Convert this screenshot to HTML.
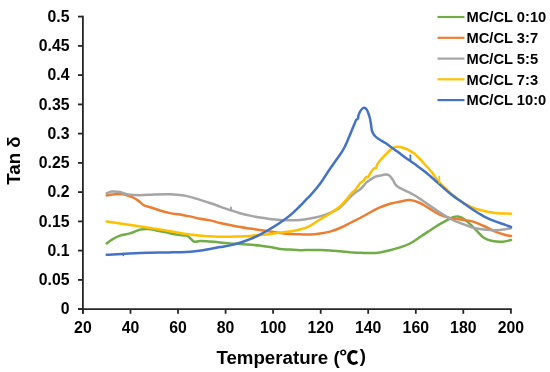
<!DOCTYPE html>
<html><head><meta charset="utf-8"><style>
html,body{margin:0;padding:0;background:#fff;}
body{width:550px;height:372px;overflow:hidden;}
svg{display:block;filter:blur(0.3px);}
text{font-family:"Liberation Sans","Noto Sans CJK SC",sans-serif;font-weight:bold;fill:#000;}
</style></head><body>
<svg width="550" height="372" viewBox="0 0 550 372">
<rect width="550" height="372" fill="#fff"/>
<g stroke="#262626" stroke-width="1.8" fill="none" stroke-linecap="butt">
<line x1="82.9" y1="15.7" x2="82.9" y2="313.8"/>
<line x1="78.0" y1="309.1" x2="511.8" y2="309.1"/>
<line x1="78.0" y1="309.1" x2="82.9" y2="309.1"/>
<line x1="78.0" y1="279.9" x2="82.9" y2="279.9"/>
<line x1="78.0" y1="250.6" x2="82.9" y2="250.6"/>
<line x1="78.0" y1="221.4" x2="82.9" y2="221.4"/>
<line x1="78.0" y1="192.1" x2="82.9" y2="192.1"/>
<line x1="78.0" y1="162.9" x2="82.9" y2="162.9"/>
<line x1="78.0" y1="133.6" x2="82.9" y2="133.6"/>
<line x1="78.0" y1="104.4" x2="82.9" y2="104.4"/>
<line x1="78.0" y1="75.1" x2="82.9" y2="75.1"/>
<line x1="78.0" y1="45.9" x2="82.9" y2="45.9"/>
<line x1="78.0" y1="16.6" x2="82.9" y2="16.6"/>
<line x1="82.9" y1="309.1" x2="82.9" y2="313.8"/>
<line x1="130.5" y1="309.1" x2="130.5" y2="313.8"/>
<line x1="178.0" y1="309.1" x2="178.0" y2="313.8"/>
<line x1="225.6" y1="309.1" x2="225.6" y2="313.8"/>
<line x1="273.1" y1="309.1" x2="273.1" y2="313.8"/>
<line x1="320.7" y1="309.1" x2="320.7" y2="313.8"/>
<line x1="368.2" y1="309.1" x2="368.2" y2="313.8"/>
<line x1="415.8" y1="309.1" x2="415.8" y2="313.8"/>
<line x1="463.3" y1="309.1" x2="463.3" y2="313.8"/>
<line x1="510.9" y1="309.1" x2="510.9" y2="313.8"/>
</g>
<g font-size="15.8">
<text x="69.5" y="314.3" text-anchor="end">0</text>
<text x="69.5" y="285.1" text-anchor="end">0.05</text>
<text x="69.5" y="255.8" text-anchor="end">0.1</text>
<text x="69.5" y="226.6" text-anchor="end">0.15</text>
<text x="69.5" y="197.3" text-anchor="end">0.2</text>
<text x="69.5" y="168.1" text-anchor="end">0.25</text>
<text x="69.5" y="138.8" text-anchor="end">0.3</text>
<text x="69.5" y="109.6" text-anchor="end">0.35</text>
<text x="69.5" y="80.3" text-anchor="end">0.4</text>
<text x="69.5" y="51.1" text-anchor="end">0.45</text>
<text x="69.5" y="21.8" text-anchor="end">0.5</text>
<text x="82.9" y="333.2" text-anchor="middle">20</text>
<text x="130.5" y="333.2" text-anchor="middle">40</text>
<text x="178.0" y="333.2" text-anchor="middle">60</text>
<text x="225.6" y="333.2" text-anchor="middle">80</text>
<text x="273.1" y="333.2" text-anchor="middle">100</text>
<text x="320.7" y="333.2" text-anchor="middle">120</text>
<text x="368.2" y="333.2" text-anchor="middle">140</text>
<text x="415.8" y="333.2" text-anchor="middle">160</text>
<text x="463.3" y="333.2" text-anchor="middle">180</text>
<text x="510.9" y="333.2" text-anchor="middle">200</text>
</g>
<g fill="none" stroke-width="2.5" stroke-linejoin="round" stroke-linecap="round">
<path d="M106.7,243.4 C107.6,242.8 109.8,240.9 112.0,239.6 C114.2,238.3 117.0,236.6 120.0,235.6 C123.0,234.6 126.7,234.4 130.0,233.4 C133.3,232.4 137.0,230.3 140.0,229.6 C143.0,228.9 145.3,228.9 148.0,229.0 C150.7,229.1 153.0,229.8 156.0,230.4 C159.0,231.0 162.7,231.7 166.0,232.4 C169.3,233.1 172.7,234.1 176.0,234.6 C179.3,235.1 183.8,235.2 186.0,235.6 C188.2,236.0 187.7,236.0 189.0,237.0 C190.3,238.0 192.2,240.9 194.0,241.6 C195.8,242.3 197.3,241.0 200.0,241.0 C202.7,241.0 206.7,241.4 210.0,241.6 C213.3,241.8 216.7,242.1 220.0,242.4 C223.3,242.7 226.7,243.1 230.0,243.4 C233.3,243.7 236.7,243.8 240.0,244.0 C243.3,244.2 246.7,244.3 250.0,244.6 C253.3,244.9 256.7,245.2 260.0,245.6 C263.3,246.0 266.7,246.4 270.0,247.0 C273.3,247.6 276.7,248.6 280.0,249.0 C283.3,249.4 286.7,249.4 290.0,249.6 C293.3,249.8 296.7,250.1 300.0,250.2 C303.3,250.3 306.7,250.0 310.0,250.0 C313.3,250.0 316.7,249.9 320.0,250.0 C323.3,250.1 326.7,250.2 330.0,250.4 C333.3,250.6 336.7,251.0 340.0,251.3 C343.3,251.6 346.7,251.9 350.0,252.2 C353.3,252.4 356.7,252.7 360.0,252.8 C363.3,253.0 366.7,253.2 370.0,253.1 C373.3,253.0 376.7,252.9 380.0,252.4 C383.3,251.9 386.7,251.1 390.0,250.3 C393.3,249.5 396.7,248.5 400.0,247.4 C403.3,246.3 406.7,245.2 410.0,243.5 C413.3,241.8 416.7,239.2 420.0,237.0 C423.3,234.8 426.9,232.5 430.0,230.5 C433.1,228.5 435.7,226.6 438.6,224.9 C441.5,223.2 444.7,221.5 447.2,220.2 C449.7,218.9 451.9,217.6 453.7,217.0 C455.5,216.4 456.2,216.1 458.0,216.5 C459.8,216.9 462.2,217.8 464.4,219.2 C466.5,220.6 468.8,222.9 470.9,224.9 C473.0,226.9 475.1,229.2 477.3,231.3 C479.5,233.5 481.3,236.2 483.8,237.8 C486.3,239.4 489.2,240.3 492.4,241.0 C495.6,241.7 500.5,241.8 503.2,241.7 C505.9,241.6 507.2,240.9 508.5,240.6 C509.8,240.3 510.6,240.1 511.0,240.0" stroke="#70AD47"/>
<path d="M106.7,195.4 C107.8,195.2 110.8,194.7 113.0,194.5 C115.2,194.3 117.8,193.9 120.0,194.0 C122.2,194.1 123.7,194.3 126.0,195.0 C128.3,195.7 131.7,196.8 134.0,198.0 C136.3,199.2 138.3,200.8 140.0,202.0 C141.7,203.2 142.0,204.4 144.0,205.4 C146.0,206.4 149.3,207.0 152.0,207.8 C154.7,208.7 157.0,209.6 160.0,210.5 C163.0,211.4 166.7,212.4 170.0,213.1 C173.3,213.8 176.7,214.0 180.0,214.6 C183.3,215.2 186.7,215.7 190.0,216.4 C193.3,217.1 196.7,218.1 200.0,218.8 C203.3,219.5 206.7,219.7 210.0,220.4 C213.3,221.1 216.7,222.2 220.0,223.0 C223.3,223.8 226.7,224.3 230.0,225.0 C233.3,225.7 236.7,226.4 240.0,227.0 C243.3,227.6 246.7,228.1 250.0,228.6 C253.3,229.1 256.7,229.5 260.0,230.0 C263.3,230.5 266.7,231.1 270.0,231.6 C273.3,232.1 276.7,232.6 280.0,233.0 C283.3,233.4 286.7,233.8 290.0,234.0 C293.3,234.2 296.7,234.2 300.0,234.3 C303.3,234.4 306.7,234.7 310.0,234.6 C313.3,234.5 316.7,234.1 320.0,233.6 C323.3,233.1 326.7,232.5 330.0,231.6 C333.3,230.7 336.7,229.4 340.0,228.0 C343.3,226.6 346.7,224.7 350.0,223.0 C353.3,221.3 356.7,219.8 360.0,218.0 C363.3,216.2 366.7,214.3 370.0,212.5 C373.3,210.7 376.7,208.8 380.0,207.4 C383.3,206.0 386.7,204.8 390.0,203.8 C393.3,202.8 396.7,202.2 400.0,201.6 C403.3,201.0 406.7,199.8 410.0,200.0 C413.3,200.2 416.7,201.5 420.0,203.0 C423.3,204.5 426.5,206.9 430.0,208.9 C433.5,210.9 437.2,213.6 440.8,215.2 C444.4,216.8 447.9,217.5 451.5,218.3 C455.1,219.1 458.7,219.2 462.3,219.8 C465.9,220.4 469.4,220.6 473.0,221.6 C476.6,222.6 480.2,224.4 483.8,226.0 C487.4,227.6 491.0,229.8 494.6,231.3 C498.2,232.8 502.6,234.2 505.3,235.0 C508.0,235.8 510.1,235.8 511.0,236.0" stroke="#ED7D31"/>
<path d="M106.7,193.2 C107.6,192.9 109.8,191.8 112.0,191.6 C114.2,191.4 117.3,191.6 120.0,192.1 C122.7,192.6 124.7,194.1 128.0,194.6 C131.3,195.1 135.7,195.2 140.0,195.2 C144.3,195.2 149.0,194.7 154.0,194.5 C159.0,194.3 165.0,194.0 170.0,194.2 C175.0,194.4 179.7,194.9 184.0,195.6 C188.3,196.3 191.7,197.4 196.0,198.6 C200.3,199.8 206.0,201.7 210.0,203.0 C214.0,204.3 216.7,205.4 220.0,206.6 C223.3,207.8 226.7,208.9 230.0,210.0 C233.3,211.1 236.7,212.3 240.0,213.2 C243.3,214.1 246.7,214.9 250.0,215.6 C253.3,216.3 256.7,217.0 260.0,217.6 C263.3,218.2 266.7,218.6 270.0,219.0 C273.3,219.4 276.7,219.7 280.0,219.9 C283.3,220.1 286.7,220.2 290.0,220.2 C293.3,220.2 296.7,220.4 300.0,220.1 C303.3,219.8 306.7,219.2 310.0,218.6 C313.3,218.0 316.7,217.3 320.0,216.4 C323.3,215.5 326.7,214.5 330.0,213.0 C333.3,211.5 337.0,209.9 340.0,207.6 C343.0,205.3 345.9,201.4 348.2,199.1 C350.5,196.8 352.0,195.1 354.0,193.5 C356.0,191.9 358.4,190.6 360.0,189.4 C361.6,188.2 362.2,187.4 363.3,186.2 C364.4,185.0 365.2,183.5 366.5,182.4 C367.8,181.3 369.4,180.4 370.9,179.4 C372.4,178.4 373.9,177.2 375.3,176.6 C376.8,176.0 378.3,176.1 379.6,175.8 C380.9,175.5 381.8,175.1 382.9,174.9 C384.0,174.7 385.2,174.4 386.2,174.5 C387.2,174.6 388.1,174.8 388.9,175.3 C389.7,175.8 390.4,176.5 391.1,177.4 C391.8,178.3 392.6,179.5 393.3,180.7 C394.0,181.9 394.6,183.4 395.4,184.5 C396.2,185.6 396.8,186.1 398.2,187.0 C399.6,187.9 401.8,188.9 403.6,189.8 C405.4,190.7 407.3,191.4 409.1,192.3 C410.9,193.2 412.7,194.1 414.5,195.2 C416.3,196.3 417.4,197.1 420.0,198.8 C422.6,200.6 426.5,203.3 430.0,205.7 C433.5,208.1 437.2,210.7 440.8,213.0 C444.4,215.3 447.9,217.7 451.5,219.5 C455.1,221.3 458.7,222.4 462.3,223.8 C465.9,225.2 469.4,226.7 473.0,227.7 C476.6,228.7 480.2,229.2 483.8,229.6 C487.4,230.0 491.0,230.4 494.6,230.3 C498.2,230.2 502.6,229.6 505.3,229.2 C508.0,228.8 510.1,228.3 511.0,228.1" stroke="#A5A5A5"/>
<path d="M106.7,221.4 C115.6,222.8 146.1,227.4 160.0,229.6 C173.9,231.8 181.7,233.5 190.0,234.6 C198.3,235.7 205.0,236.0 210.0,236.3 C215.0,236.7 216.7,236.6 220.0,236.7 C223.3,236.8 226.7,236.8 230.0,236.7 C233.3,236.6 236.7,236.5 240.0,236.4 C243.3,236.3 246.7,236.1 250.0,235.9 C253.3,235.7 256.7,235.4 260.0,235.1 C263.3,234.8 266.7,234.4 270.0,234.0 C273.3,233.6 276.7,233.0 280.0,232.6 C283.3,232.2 286.7,232.0 290.0,231.5 C293.3,231.0 296.7,230.4 300.0,229.5 C303.3,228.6 306.7,227.5 310.0,225.8 C313.3,224.1 316.7,221.6 320.0,219.5 C323.3,217.4 326.7,215.7 330.0,213.5 C333.3,211.3 337.3,208.8 340.0,206.5 C342.7,204.2 344.6,201.7 346.4,199.6 C348.2,197.5 349.2,195.8 350.9,194.0 C352.6,192.2 354.9,190.3 356.4,188.5 C357.9,186.7 358.9,184.5 360.0,183.2 C361.1,181.9 362.3,181.9 363.3,180.9 C364.3,179.9 365.2,177.8 366.0,177.1 C366.8,176.4 367.4,177.7 368.2,176.9 C369.0,176.1 369.9,173.6 370.9,172.2 C371.9,170.8 373.3,169.2 374.2,168.4 C375.1,167.6 375.9,168.2 376.4,167.6 C376.8,167.0 376.4,166.0 376.9,165.0 C377.3,164.0 378.3,162.8 379.1,161.7 C379.9,160.6 380.8,159.7 381.8,158.6 C382.8,157.5 383.8,156.4 385.0,155.2 C386.2,154.0 387.6,152.5 389.0,151.3 C390.4,150.1 391.8,148.7 393.1,147.9 C394.5,147.1 395.8,146.8 397.1,146.7 C398.4,146.6 399.8,146.9 401.1,147.2 C402.5,147.5 403.9,148.0 405.2,148.5 C406.5,149.0 407.9,149.6 409.2,150.3 C410.5,151.0 411.8,151.8 413.2,152.8 C414.6,153.8 415.9,155.0 417.3,156.3 C418.7,157.6 420.1,159.1 421.3,160.4 C422.5,161.7 423.2,162.7 424.4,164.0 C425.5,165.3 426.9,166.6 428.2,168.0 C429.4,169.4 430.8,170.9 431.9,172.3 C433.0,173.7 433.9,175.2 434.8,176.4 C435.7,177.7 436.3,178.8 437.1,179.8 C437.9,180.8 438.5,181.5 439.5,182.6 C440.5,183.7 441.9,185.0 443.2,186.2 C444.5,187.4 445.7,188.5 447.2,189.8 C448.7,191.2 450.2,192.7 452.0,194.3 C453.8,195.9 456.2,197.8 458.0,199.2 C459.8,200.6 461.2,201.7 463.0,202.8 C464.8,203.9 466.9,204.9 468.7,205.8 C470.5,206.7 472.2,207.3 474.0,208.0 C475.8,208.7 476.8,209.1 479.5,209.8 C482.2,210.5 486.7,211.7 490.3,212.3 C493.9,212.9 497.6,213.2 501.0,213.4 C504.4,213.6 509.3,213.6 511.0,213.7" stroke="#FFC000"/>
<path d="M106.7,254.8 C112.2,254.5 129.4,253.4 140.0,253.0 C150.6,252.6 162.3,252.6 170.0,252.4 C177.7,252.2 181.8,252.1 186.0,251.9 C190.2,251.7 192.2,251.5 195.0,251.2 C197.8,250.9 200.3,250.6 203.0,250.2 C205.7,249.8 208.2,249.3 211.0,248.8 C213.8,248.3 216.8,247.7 220.0,247.1 C223.2,246.5 226.7,246.1 230.0,245.4 C233.3,244.7 236.7,243.8 240.0,242.8 C243.3,241.8 246.7,240.6 250.0,239.2 C253.3,237.8 256.7,236.3 260.0,234.6 C263.3,232.9 266.7,231.0 270.0,229.0 C273.3,227.0 276.7,225.0 280.0,222.7 C283.3,220.4 286.7,218.2 290.0,215.4 C293.3,212.6 297.4,208.5 300.0,206.0 C302.6,203.5 303.6,202.2 305.4,200.3 C307.2,198.4 309.0,196.7 310.8,194.8 C312.6,192.9 314.3,191.0 316.1,188.8 C317.9,186.6 319.7,184.4 321.5,181.8 C323.3,179.2 325.1,176.1 326.9,173.5 C328.6,170.9 330.5,168.2 332.0,166.0 C333.5,163.8 334.7,162.1 336.0,160.2 C337.3,158.3 338.5,157.0 340.0,154.8 C341.5,152.6 343.2,150.0 344.8,146.8 C346.4,143.6 348.2,139.0 349.7,135.5 C351.2,132.0 352.6,128.3 353.7,125.8 C354.8,123.2 355.4,121.4 356.1,120.2 C356.8,119.0 357.6,119.3 358.0,118.5 C358.4,117.7 358.1,116.5 358.5,115.3 C358.9,114.1 359.5,112.4 360.2,111.3 C360.9,110.2 361.9,109.0 362.6,108.4 C363.3,107.8 363.8,107.5 364.5,107.7 C365.2,107.9 366.0,108.5 366.6,109.4 C367.2,110.3 367.7,111.5 368.2,112.9 C368.7,114.3 369.3,115.8 369.8,117.7 C370.3,119.6 370.6,122.1 371.0,124.2 C371.4,126.3 371.4,128.8 371.9,130.6 C372.4,132.3 373.0,133.5 373.9,134.7 C374.8,135.9 375.9,136.9 377.1,137.9 C378.3,138.9 380.0,139.8 381.3,140.6 C382.6,141.4 383.0,141.5 385.0,142.8 C387.0,144.1 390.4,146.6 393.1,148.5 C395.8,150.4 398.4,152.4 401.1,154.4 C403.8,156.4 406.5,158.4 409.2,160.3 C411.9,162.2 414.8,164.1 417.3,165.9 C419.8,167.7 421.6,169.1 424.4,171.3 C427.1,173.5 430.7,176.5 433.8,179.2 C436.9,181.9 440.2,185.0 443.2,187.6 C446.1,190.2 448.3,192.2 451.5,194.7 C454.7,197.1 458.7,199.8 462.3,202.3 C465.9,204.8 469.4,207.5 473.0,209.8 C476.6,212.1 480.2,214.4 483.8,216.3 C487.4,218.2 491.0,219.8 494.6,221.2 C498.2,222.6 502.6,223.9 505.3,224.9 C508.0,225.9 510.1,226.7 511.0,227.0" stroke="#4472C4"/>
</g>
<g fill="none" stroke-linecap="round">
<path d="M231,210 L231,207.4" stroke="#A5A5A5" stroke-width="2"/>
<path d="M439.3,182.8 L439.3,176.6" stroke="#FFC000" stroke-width="1.7"/>
<path d="M410.4,160 L410.4,155.3" stroke="#4472C4" stroke-width="1.7"/>
<path d="M123.3,253.5 L123.3,255.6" stroke="#4472C4" stroke-width="1.5"/>
</g>
<g font-size="14.7">
<line x1="437.5" y1="17.0" x2="464.5" y2="17.0" stroke="#70AD47" stroke-width="2.2"/>
<text x="466.5" y="22.2">MC/CL 0:10</text>
<line x1="437.5" y1="37.8" x2="464.5" y2="37.8" stroke="#ED7D31" stroke-width="2.2"/>
<text x="466.5" y="43.0">MC/CL 3:7</text>
<line x1="437.5" y1="58.6" x2="464.5" y2="58.6" stroke="#A5A5A5" stroke-width="2.2"/>
<text x="466.5" y="63.8">MC/CL 5:5</text>
<line x1="437.5" y1="79.3" x2="464.5" y2="79.3" stroke="#FFC000" stroke-width="2.2"/>
<text x="466.5" y="84.5">MC/CL 7:3</text>
<line x1="437.5" y1="100.1" x2="464.5" y2="100.1" stroke="#4472C4" stroke-width="2.2"/>
<text x="466.5" y="105.3">MC/CL 10:0</text>
</g>
<text x="291.2" y="363.7" font-size="18.7" text-anchor="middle">Temperature (<tspan font-family="Noto Sans CJK SC" font-weight="900">℃</tspan><tspan dx="1.4" dy="-1.9">)</tspan></text>
<text transform="translate(20.0,160.6) rotate(-90)" font-size="18.7" text-anchor="middle">Tan δ</text>
</svg>
</body></html>
